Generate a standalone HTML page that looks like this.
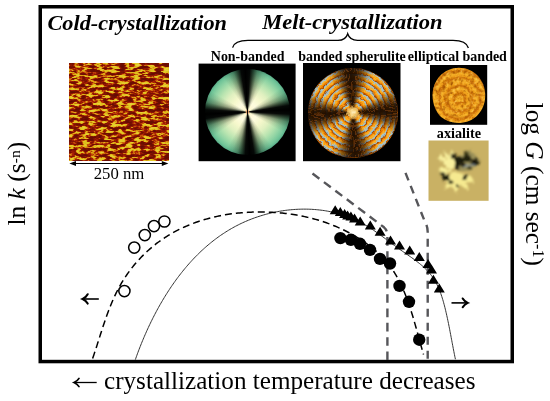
<!DOCTYPE html>
<html><head><meta charset="utf-8">
<style>
html,body{margin:0;padding:0;background:#fff;}
body{width:550px;height:401px;position:relative;overflow:hidden;font-family:"Liberation Serif",serif;}
.ph{position:absolute;}
svg{position:absolute;left:0;top:0;}
</style></head><body>
<svg width="550" height="401" viewBox="0 0 550 401">
<defs>
<filter id="afm" x="0" y="0" width="100%" height="100%" color-interpolation-filters="sRGB">
<feTurbulence type="fractalNoise" baseFrequency="0.135 0.33" numOctaves="3" seed="11" result="n"/>
<feColorMatrix in="n" type="matrix" values="1 0 0 0 0  1 0 0 0 0  1 0 0 0 0  0 0 0 0 1" result="g"/>
<feComponentTransfer in="g">
<feFuncR type="table" tableValues=".38 .38 .38 .39 .40 .41 .42 .44 .48 .55 .66 .80 .86 .88 .89 .90 .91 .91 .91 .91 .91"/>
<feFuncG type="table" tableValues=".04 .04 .04 .04 .04 .05 .05 .06 .07 .09 .12 .38 .68 .76 .79 .81 .82 .82 .82 .82 .82"/>
<feFuncB type="table" tableValues=".01 .01 .01 .01 .01 .01 .01 .01 .01 .01 .02 .04 .08 .12 .15 .18 .22 .25 .25 .25 .25"/>
</feComponentTransfer>
<feGaussianBlur stdDeviation="0.45"/>
</filter>
<filter id="wave2" x="-5%" y="-5%" width="110%" height="110%">
<feTurbulence type="fractalNoise" baseFrequency="0.14" numOctaves="1" seed="3" result="t"/>
<feDisplacementMap in="SourceGraphic" in2="t" scale="8" xChannelSelector="R" yChannelSelector="G"/>
<feGaussianBlur stdDeviation="0.6"/>
</filter>
<radialGradient id="erg" gradientUnits="userSpaceOnUse" cx="459.5" cy="98.5" r="7.5" spreadMethod="repeat">
<stop offset="0" stop-color="#ec9a18"/><stop offset="0.35" stop-color="#f4b028"/><stop offset="0.72" stop-color="#c86c06"/><stop offset="1" stop-color="#ec9a18"/>
</radialGradient>
<clipPath id="ec"><path d="M459,67.8 C474,67.8 485.2,80 485.2,95.5 C485.2,111 474,122.9 459,122.9 C452,122.9 446,121 441,117 C436,112 432.5,104 432.5,95.5 C432.5,80 444,67.8 459,67.8 Z"/></clipPath>
<filter id="ewarp" x="0" y="0" width="100%" height="100%">
<feTurbulence type="fractalNoise" baseFrequency="0.12" numOctaves="2" seed="4" result="t"/>
<feDisplacementMap in="SourceGraphic" in2="t" scale="4" xChannelSelector="R" yChannelSelector="G"/>
</filter>
<filter id="egrain" x="0" y="0" width="100%" height="100%" color-interpolation-filters="sRGB">
<feTurbulence type="fractalNoise" baseFrequency="0.28" numOctaves="2" seed="9" result="t"/>
<feColorMatrix in="t" type="matrix" values="0 0 0 0 0.62  0 0 0 0 0.30  0 0 0 0 0  2.6 0 0 0 -1.35" result="dk"/>
<feColorMatrix in="t" type="matrix" values="0 0 0 0 1  0 0 0 0 0.82  0 0 0 0 0.35  -2.6 0 0 0 1.15" result="lt"/>
<feMerge><feMergeNode in="dk"/><feMergeNode in="lt"/></feMerge>
</filter>
<filter id="rough" x="-10%" y="-10%" width="120%" height="120%">
<feTurbulence type="fractalNoise" baseFrequency="0.45" numOctaves="2" seed="2" result="t"/>
<feDisplacementMap in="SourceGraphic" in2="t" scale="4" xChannelSelector="R" yChannelSelector="G" result="d"/>
<feGaussianBlur in="d" stdDeviation="0.95"/>
</filter>
</defs>
<rect x="40.25" y="6.75" width="472" height="354.8" fill="none" stroke="#000" stroke-width="3.5"/>
<!-- AFM -->
<rect x="69.6" y="63.1" width="98.7" height="97.1" filter="url(#afm)" fill="#000"/>
<!-- photos -->
<rect x="198.6" y="63.6" width="97" height="97.6" fill="#000"/>
<rect x="303" y="63" width="97.5" height="98.2" fill="#000"/>
<rect x="430" y="65" width="57.2" height="59.8" fill="#000"/>
<rect x="428.5" y="140.5" width="60.1" height="60.3" fill="#c9b164"/>
<g clip-path="url(#ec)">
<rect x="428" y="63" width="61" height="64" fill="url(#erg)" filter="url(#ewarp)"/>
<rect x="430" y="65" width="57.2" height="59.8" filter="url(#egrain)"/>
</g>
<g filter="url(#rough)">
<path d="M451,171 L438,158 L441,154 L447,160 L443,150 L449,156 L452,150 L455,166 Z" fill="#fbf2a0" opacity="0.95"/>
<path d="M452,170 L440,167 L439,172 L446,174 Z" fill="#f8ee98"/>
<path d="M452,171 L471,176 L474,183 L466,182 L469,190 L460,185 L456,193 L452,186 L444,190 L447,182 Z" fill="#f6ea90"/>
<path d="M455,160 L470,150 L480,160 L472,170 L458,172 Z" fill="#9a9058"/>
<ellipse cx="459" cy="161" rx="5" ry="4.5" fill="#1e1e0c"/>
<ellipse cx="467" cy="158.5" rx="4" ry="3.5" fill="#22220f"/>
<ellipse cx="475" cy="162" rx="4.5" ry="4" fill="#1e1e0c"/>
<ellipse cx="463" cy="165" rx="3" ry="2.5" fill="#2a2814"/>
<ellipse cx="454" cy="156" rx="3.2" ry="2.8" fill="#2e2c14"/>
<ellipse cx="466" cy="153.5" rx="2.5" ry="2" fill="#3a3818"/>
<ellipse cx="446" cy="177.5" rx="3.8" ry="3.4" fill="#22220f"/>
<ellipse cx="442.5" cy="173.5" rx="2" ry="2" fill="#2e2c14"/>
<ellipse cx="465" cy="177" rx="2.8" ry="2.8" fill="#1a1a0a"/>
<ellipse cx="457" cy="167" rx="2.6" ry="2.6" fill="#2a2814"/>
<ellipse cx="451" cy="182" rx="2" ry="2" fill="#2e2c14"/>
<ellipse cx="457.5" cy="186" rx="1.6" ry="1.8" fill="#2e2c14"/>
<ellipse cx="470" cy="168" rx="2" ry="1.6" fill="#2e2c14"/>
<path d="M462,167.5 Q468,164.5 475,165" stroke="#8898a0" stroke-width="1.3" fill="none"/>
</g>
<!-- double arrow -->
<line x1="73" y1="163.5" x2="165" y2="163.5" stroke="#000" stroke-width="1.2"/>
<path d="M69.4,163.5 L76,161 L76,166 Z M168.4,163.5 L161.8,161 L161.8,166 Z" fill="#000"/>
<!-- brace -->
<path d="M232.6,47.6 C234,42.5 240,40.4 248,40.4 L338,40.4 C343,40.4 346.5,38 347.7,33.8 C349,38 352.5,40.4 357.5,40.4 L453,40.4 C461,40.4 467,43 468.4,48" fill="none" stroke="#000" stroke-width="1.3"/>
<!-- curves -->
<path d="M135.31,359.68 L135.83,358.22 L136.35,356.75 L136.88,355.29 L137.42,353.82 L137.96,352.36 L138.51,350.89 L139.07,349.43 L139.64,347.96 L140.22,346.49 L140.80,345.03 L141.39,343.56 L141.98,342.09 L142.59,340.63 L143.20,339.16 L143.82,337.70 L144.44,336.23 L145.08,334.77 L145.72,333.31 L146.36,331.85 L147.02,330.39 L147.68,328.93 L148.36,327.48 L149.03,326.02 L149.72,324.57 L150.42,323.12 L151.12,321.68 L151.83,320.23 L152.54,318.79 L153.27,317.35 L154.00,315.92 L154.74,314.49 L155.49,313.06 L156.25,311.63 L157.01,310.21 L157.78,308.79 L158.56,307.38 L159.35,305.97 L160.15,304.56 L160.95,303.16 L161.76,301.77 L162.58,300.37 L163.41,298.99 L164.25,297.60 L165.09,296.23 L165.94,294.85 L166.80,293.49 L167.67,292.13 L168.55,290.77 L169.43,289.42 L170.32,288.08 L171.23,286.74 L172.13,285.41 L173.05,284.08 L173.98,282.77 L174.91,281.46 L175.85,280.15 L176.81,278.85 L177.76,277.56 L178.73,276.28 L179.71,275.01 L180.69,273.74 L181.69,272.48 L182.69,271.23 L183.70,269.98 L184.72,268.75 L185.74,267.52 L186.78,266.30 L187.82,265.09 L188.88,263.89 L189.94,262.70 L191.01,261.52 L192.09,260.35 L193.17,259.18 L194.27,258.03 L195.38,256.88 L196.49,255.75 L197.61,254.62 L198.74,253.51 L199.88,252.41 L201.03,251.31 L202.19,250.23 L203.36,249.16 L204.53,248.10 L205.72,247.05 L206.91,246.01 L208.12,244.98 L209.33,243.97 L210.55,242.96 L211.78,241.97 L213.02,240.99 L214.27,240.03 L215.52,239.07 L216.79,238.13 L218.06,237.20 L219.35,236.28 L220.64,235.37 L221.95,234.48 L223.26,233.61 L224.58,232.74 L225.91,231.89 L227.25,231.05 L228.60,230.23 L229.96,229.42 L231.33,228.62 L232.71,227.84 L234.09,227.07 L235.49,226.32 L236.90,225.58 L238.31,224.86 L239.74,224.15 L241.17,223.46 L242.62,222.78 L244.07,222.12 L245.53,221.47 L247.00,220.84 L248.48,220.23 L249.97,219.63 L251.46,219.04 L252.96,218.48 L254.47,217.92 L255.99,217.39 L257.51,216.87 L259.04,216.36 L260.57,215.87 L262.12,215.40 L263.66,214.95 L265.22,214.51 L266.77,214.09 L268.34,213.68 L269.90,213.29 L271.48,212.92 L273.05,212.56 L274.63,212.23 L276.22,211.91 L277.80,211.60 L279.39,211.31 L280.99,211.04 L282.58,210.79 L284.18,210.56 L285.78,210.34 L287.38,210.14 L288.99,209.96 L290.59,209.79 L292.20,209.65 L293.81,209.52 L295.41,209.41 L297.02,209.32 L298.63,209.24 L300.24,209.19 L301.85,209.15 L303.45,209.13 L305.06,209.13 L306.66,209.15 L308.27,209.18 L309.87,209.24 L311.47,209.31 L313.07,209.41 L314.66,209.52 L316.25,209.65 L317.84,209.80 L319.43,209.97 L321.01,210.16 L322.59,210.37 L324.17,210.59 L325.74,210.84 L327.30,211.11 L328.86,211.40 L330.42,211.70 L331.97,212.03 L333.52,212.37 L335.06,212.74 L336.59,213.13 L338.12,213.53 L339.64,213.96 L341.16,214.41 L342.66,214.87 L344.16,215.36 L345.65,215.87 L347.14,216.40 L348.62,216.95 L350.08,217.52 L351.54,218.11 L352.99,218.73 L354.44,219.36 L355.87,220.02 L357.29,220.69 L358.70,221.39 L360.11,222.11 L361.50,222.85 L362.88,223.61 L364.25,224.39 L365.62,225.19 L366.98,226.01 L368.33,226.84 L369.67,227.69 L371.00,228.55 L372.33,229.43 L373.65,230.32 L374.97,231.22 L376.29,232.13 L377.60,233.05 L378.90,233.98 L380.21,234.92 L381.51,235.87 L382.80,236.82 L384.10,237.78 L385.40,238.74 L386.69,239.71 L387.99,240.67 L389.29,241.64 L390.58,242.61 L391.88,243.58 L393.18,244.55 L394.49,245.51 L395.79,246.47 L397.11,247.43 L398.42,248.38 L399.74,249.33 L401.06,250.26 L402.39,251.20 L403.73,252.12 L405.06,253.05 L406.39,253.97 L407.72,254.89 L409.04,255.81 L410.37,256.74 L411.68,257.66 L412.98,258.60 L414.28,259.54 L415.56,260.48 L416.83,261.44 L418.08,262.41 L419.32,263.39 L420.54,264.38 L421.74,265.39 L422.91,266.42 L424.07,267.46 L425.20,268.52 L426.30,269.61 L427.38,270.72 L428.42,271.85 L429.44,273.00 L430.42,274.19 L431.37,275.40 L432.28,276.64 L433.16,277.91 L434.00,279.21 L434.80,280.53 L435.58,281.88 L436.32,283.26 L437.03,284.66 L437.72,286.08 L438.37,287.52 L439.00,288.98 L439.61,290.46 L440.19,291.96 L440.74,293.47 L441.28,294.99 L441.79,296.53 L442.29,298.08 L442.76,299.64 L443.22,301.20 L443.67,302.78 L444.09,304.36 L444.51,305.94 L444.91,307.53 L445.31,309.12 L445.69,310.72 L446.06,312.31 L446.43,313.90 L446.78,315.49 L447.13,317.08 L447.48,318.67 L447.81,320.25 L448.14,321.84 L448.47,323.43 L448.79,325.01 L449.10,326.59 L449.41,328.17 L449.72,329.75 L450.02,331.33 L450.32,332.90 L450.62,334.47 L450.92,336.04 L451.21,337.61 L451.51,339.18 L451.80,340.74 L452.09,342.30 L452.38,343.85 L452.68,345.41 L452.97,346.96 L453.27,348.51 L453.56,350.05 L453.86,351.59 L454.17,353.13 L454.47,354.66 L454.78,356.19 L455.10,357.72 L455.41,359.24" fill="none" stroke="#333" stroke-width="1"/>
<path d="M92.60,358.48 L93.14,356.94 L93.66,355.41 L94.18,353.87 L94.70,352.33 L95.21,350.79 L95.71,349.24 L96.22,347.70 L96.72,346.15 L97.22,344.61 L97.71,343.06 L98.21,341.51 L98.70,339.96 L99.20,338.41 L99.69,336.86 L100.19,335.31 L100.68,333.76 L101.18,332.21 L101.68,330.67 L102.18,329.12 L102.68,327.58 L103.19,326.03 L103.70,324.49 L104.22,322.95 L104.74,321.41 L105.27,319.88 L105.80,318.35 L106.34,316.82 L106.88,315.29 L107.44,313.77 L108.00,312.25 L108.57,310.74 L109.14,309.22 L109.73,307.72 L110.32,306.22 L110.93,304.72 L111.55,303.22 L112.18,301.74 L112.82,300.25 L113.47,298.78 L114.13,297.31 L114.81,295.84 L115.50,294.38 L116.20,292.93 L116.92,291.48 L117.66,290.05 L118.41,288.61 L119.17,287.19 L119.95,285.77 L120.75,284.36 L121.57,282.96 L122.40,281.57 L123.26,280.18 L124.13,278.81 L125.01,277.44 L125.92,276.09 L126.84,274.74 L127.78,273.40 L128.73,272.07 L129.70,270.75 L130.69,269.45 L131.69,268.15 L132.71,266.87 L133.74,265.59 L134.79,264.33 L135.85,263.08 L136.93,261.84 L138.02,260.62 L139.13,259.41 L140.25,258.21 L141.38,257.02 L142.53,255.85 L143.69,254.69 L144.86,253.55 L146.05,252.42 L147.25,251.31 L148.46,250.21 L149.68,249.12 L150.92,248.06 L152.16,247.00 L153.42,245.97 L154.68,244.95 L155.96,243.94 L157.25,242.96 L158.55,241.99 L159.86,241.03 L161.18,240.10 L162.51,239.18 L163.85,238.28 L165.19,237.40 L166.55,236.53 L167.92,235.68 L169.29,234.84 L170.68,234.02 L172.07,233.22 L173.47,232.43 L174.88,231.66 L176.30,230.91 L177.73,230.17 L179.16,229.45 L180.60,228.75 L182.05,228.06 L183.51,227.38 L184.97,226.72 L186.45,226.08 L187.92,225.45 L189.41,224.84 L190.90,224.25 L192.40,223.66 L193.91,223.10 L195.42,222.55 L196.94,222.01 L198.46,221.49 L199.99,220.98 L201.53,220.49 L203.07,220.02 L204.61,219.55 L206.16,219.11 L207.72,218.67 L209.28,218.25 L210.85,217.85 L212.42,217.46 L213.99,217.08 L215.57,216.72 L217.16,216.37 L218.74,216.04 L220.33,215.72 L221.93,215.41 L223.53,215.12 L225.13,214.84 L226.73,214.58 L228.34,214.32 L229.95,214.08 L231.57,213.86 L233.18,213.65 L234.80,213.45 L236.42,213.26 L238.05,213.09 L239.67,212.93 L241.30,212.78 L242.93,212.65 L244.56,212.52 L246.19,212.41 L247.82,212.32 L249.45,212.23 L251.09,212.16 L252.72,212.10 L254.36,212.05 L255.99,212.02 L257.63,211.99 L259.27,211.98 L260.90,211.98 L262.54,211.99 L264.18,212.02 L265.81,212.05 L267.45,212.10 L269.08,212.16 L270.72,212.23 L272.35,212.32 L273.98,212.41 L275.61,212.52 L277.24,212.64 L278.87,212.78 L280.50,212.92 L282.12,213.08 L283.75,213.25 L285.37,213.43 L286.99,213.63 L288.60,213.84 L290.22,214.06 L291.83,214.30 L293.44,214.54 L295.04,214.80 L296.65,215.08 L298.25,215.36 L299.85,215.66 L301.44,215.98 L303.03,216.30 L304.62,216.64 L306.21,217.00 L307.79,217.36 L309.36,217.74 L310.94,218.13 L312.51,218.54 L314.07,218.96 L315.63,219.39 L317.19,219.84 L318.74,220.30 L320.28,220.78 L321.83,221.27 L323.36,221.77 L324.89,222.28 L326.42,222.81 L327.94,223.36 L329.46,223.92 L330.97,224.49 L332.47,225.08 L333.97,225.68 L335.46,226.30 L336.95,226.93 L338.43,227.57 L339.90,228.23 L341.37,228.90 L342.83,229.59 L344.28,230.29 L345.73,231.01 L347.17,231.74 L348.60,232.49 L350.02,233.25 L351.44,234.03 L352.85,234.82 L354.25,235.63 L355.65,236.45 L357.04,237.29 L358.41,238.14 L359.79,239.01 L361.15,239.89 L362.50,240.79 L363.85,241.70 L365.18,242.63 L366.51,243.57 L367.82,244.53 L369.13,245.51 L370.42,246.50 L371.70,247.51 L372.96,248.53 L374.21,249.57 L375.45,250.63 L376.67,251.70 L377.87,252.79 L379.05,253.89 L380.22,255.02 L381.37,256.15 L382.50,257.31 L383.61,258.48 L384.70,259.67 L385.76,260.87 L386.81,262.10 L387.83,263.34 L388.83,264.59 L389.80,265.87 L390.75,267.16 L391.68,268.46 L392.58,269.79 L393.46,271.12 L394.33,272.47 L395.17,273.84 L395.99,275.21 L396.79,276.60 L397.57,278.01 L398.33,279.42 L399.08,280.84 L399.81,282.28 L400.52,283.72 L401.22,285.17 L401.90,286.63 L402.56,288.10 L403.22,289.57 L403.85,291.05 L404.48,292.54 L405.09,294.04 L405.69,295.54 L406.28,297.05 L406.85,298.56 L407.41,300.08 L407.97,301.61 L408.51,303.14 L409.04,304.67 L409.57,306.21 L410.08,307.75 L410.59,309.30 L411.08,310.85 L411.57,312.40 L412.06,313.96 L412.53,315.52 L413.00,317.08 L413.46,318.64 L413.92,320.21 L414.38,321.77 L414.82,323.34 L415.27,324.91 L415.71,326.47 L416.15,328.04 L416.58,329.61 L417.02,331.18 L417.45,332.75 L417.88,334.31 L418.30,335.88 L418.73,337.44 L419.16,339.00 L419.59,340.56 L420.02,342.12 L420.45,343.67 L420.88,345.23 L421.31,346.77 L421.75,348.32 L422.19,349.86 L422.63,351.40 L423.08,352.93 L423.53,354.46" fill="none" stroke="#000" stroke-width="1.5" stroke-dasharray="7 4"/>
<path d="M312.5,173.5 L384,227.3 Q387.4,230.2 387.4,236 L387.4,360" fill="none" stroke="#56565a" stroke-width="2.4" stroke-dasharray="8.6 5.7"/>
<path d="M405.5,172.9 L424.8,221.5 Q427.7,226 427.7,232 L427.7,360" fill="none" stroke="#56565a" stroke-width="2.4" stroke-dasharray="8 6"/>
<circle cx="134.25" cy="247.6" r="5.6" fill="none" stroke="#000" stroke-width="1.5"/><circle cx="144.8" cy="235.1" r="5.6" fill="none" stroke="#000" stroke-width="1.5"/><circle cx="154" cy="226.1" r="5.6" fill="none" stroke="#000" stroke-width="1.5"/><circle cx="164.4" cy="221.5" r="5.6" fill="none" stroke="#000" stroke-width="1.5"/><circle cx="124.4" cy="291.1" r="5.6" fill="none" stroke="#000" stroke-width="1.5"/><circle cx="340.4" cy="238.1" r="6.2" fill="#000"/><circle cx="350.9" cy="239.8" r="6.2" fill="#000"/><circle cx="360" cy="243.8" r="6.2" fill="#000"/><circle cx="370" cy="249.9" r="6.2" fill="#000"/><circle cx="380" cy="258.9" r="6.2" fill="#000"/><circle cx="390" cy="263.5" r="6.2" fill="#000"/><circle cx="399.5" cy="285.9" r="6.2" fill="#000"/><circle cx="409" cy="301.8" r="6.2" fill="#000"/><circle cx="419.2" cy="339.7" r="6.2" fill="#000"/><path d="M335.2,205.3 L340.7,214.3 L329.7,214.3 Z M340.3,206.9 L345.8,215.9 L334.8,215.9 Z M344.6,209.0 L350.1,218.0 L339.1,218.0 Z M347.6,210.5 L353.1,219.5 L342.1,219.5 Z M350.9,211.6 L356.4,220.6 L345.4,220.6 Z M354.5,213.5 L360.0,222.5 L349.0,222.5 Z M360.2,216.6 L365.7,225.6 L354.7,225.6 Z M370.3,220.4 L375.8,229.4 L364.8,229.4 Z M380.1,226.7 L385.6,235.7 L374.6,235.7 Z M390.5,235.5 L396.0,244.5 L385.0,244.5 Z M399.5,240.4 L405.0,249.4 L394.0,249.4 Z M409.7,245.6 L415.2,254.6 L404.2,254.6 Z M419.3,252.0 L424.8,261.0 L413.8,261.0 Z M428.0,259.0 L433.5,268.0 L422.5,268.0 Z M431.5,264.5 L437.0,273.5 L426.0,273.5 Z M433.4,274.7 L438.9,283.7 L427.9,283.7 Z M439.3,283.5 L444.8,292.5 L433.8,292.5 Z" fill="#000"/>
<!-- small arrows -->
<path d="M98.8,299 L84,299" fill="none" stroke="#000" stroke-width="1.6"/><path d="M87.7,294.3 Q86,297.5 82.6,299 Q86,300.5 87.7,303.6" fill="none" stroke="#000" stroke-width="2.1" stroke-linecap="round"/>
<path d="M451.5,302.9 L466.5,302.9" fill="none" stroke="#000" stroke-width="1.6"/><path d="M462.7,298.5 Q464.4,301.4 467.7,302.9 Q464.4,304.4 462.7,307.2" fill="none" stroke="#000" stroke-width="2.1" stroke-linecap="round"/>
<!-- text -->
<g font-family="Liberation Serif, serif">
<text x="47.5" y="29.7" font-size="21.5" font-weight="bold" font-style="italic" textLength="179.5" lengthAdjust="spacingAndGlyphs">Cold-crystallization</text>
<text x="262.3" y="29" font-size="21.5" font-weight="bold" font-style="italic" textLength="180.3" lengthAdjust="spacingAndGlyphs">Melt-crystallization</text>
<text x="210.8" y="60.5" font-size="13.7" font-weight="bold" textLength="73.7" lengthAdjust="spacingAndGlyphs">Non-banded</text>
<text x="298.3" y="60.5" font-size="13.7" font-weight="bold" textLength="107.5" lengthAdjust="spacingAndGlyphs">banded spherulite</text>
<text x="407.8" y="60.5" font-size="13.7" font-weight="bold" textLength="99.1" lengthAdjust="spacingAndGlyphs">elliptical banded</text>
<text x="436.8" y="138.4" font-size="13.7" font-weight="bold" textLength="44.2" lengthAdjust="spacingAndGlyphs">axialite</text>
<text x="93.7" y="179.3" font-size="16.7">250 nm</text>
<text x="104" y="388.6" font-size="25" textLength="371.5" lengthAdjust="spacingAndGlyphs">crystallization temperature decreases</text>
<path d="M96.7,382.5 L75,382.5" fill="none" stroke="#000" stroke-width="1.3"/><path d="M79,378.4 Q77.5,381 74,382.5 Q77.5,384 79,386.6" fill="none" stroke="#000" stroke-width="1.7" stroke-linecap="round"/>
<text transform="translate(25.2,225.6) rotate(-90)" font-size="25.5">ln <tspan font-style="italic">k</tspan> (s<tspan font-size="15.5" dy="-5">-n</tspan><tspan dy="5">)</tspan></text>
<text transform="translate(526.2,102.6) rotate(90)" font-size="25.35">log <tspan font-style="italic">G</tspan> (cm sec<tspan font-size="16" dy="-7.3">-1</tspan><tspan dy="7.3">)</tspan></text>
</g>
</svg>
<div class="ph" style="left:205.2px;top:69.4px;width:84.6px;height:85.6px;border-radius:50%;
background:conic-gradient(from -3deg at 50% 50%, rgba(0,0,0,1) 0deg, rgba(0,0,0,0.96) 6deg, rgba(4,12,4,0.72) 11deg, rgba(10,24,10,0.38) 17deg, rgba(10,24,10,0.12) 25deg, rgba(10,24,10,0) 33deg, rgba(10,24,10,0) 57deg, rgba(10,24,10,0.12) 65deg, rgba(10,24,10,0.38) 73deg, rgba(4,12,4,0.72) 79deg, rgba(0,0,0,0.96) 84deg, rgba(0,0,0,1) 90deg, rgba(0,0,0,0.96) 96deg, rgba(4,12,4,0.72) 101deg, rgba(10,24,10,0.38) 107deg, rgba(10,24,10,0.12) 115deg, rgba(10,24,10,0) 123deg, rgba(10,24,10,0) 147deg, rgba(10,24,10,0.12) 155deg, rgba(10,24,10,0.38) 163deg, rgba(4,12,4,0.72) 169deg, rgba(0,0,0,0.96) 174deg, rgba(0,0,0,1) 180deg, rgba(0,0,0,0.96) 186deg, rgba(4,12,4,0.72) 191deg, rgba(10,24,10,0.38) 197deg, rgba(10,24,10,0.12) 205deg, rgba(10,24,10,0) 213deg, rgba(10,24,10,0) 237deg, rgba(10,24,10,0.12) 245deg, rgba(10,24,10,0.38) 253deg, rgba(4,12,4,0.72) 259deg, rgba(0,0,0,0.96) 264deg, rgba(0,0,0,1) 270deg, rgba(0,0,0,0.96) 276deg, rgba(4,12,4,0.72) 281deg, rgba(10,24,10,0.38) 287deg, rgba(10,24,10,0.12) 295deg, rgba(10,24,10,0) 303deg, rgba(10,24,10,0) 327deg, rgba(10,24,10,0.12) 335deg, rgba(10,24,10,0.38) 343deg, rgba(4,12,4,0.72) 349deg, rgba(0,0,0,0.96) 354deg, rgba(0,0,0,1) 360deg),
radial-gradient(circle at 50% 50%, #e07030 0px, #fff8d0 3px, #fffce0 9px, #f6f8cc 16px, #e0f0c0 23px, #b8e4b0 30px, #90d4a4 36px, #70c498 40.5px, #58ac88 43px);"></div>
<div class="ph" style="left:308.3px;top:68.2px;width:89.6px;height:89.6px;border-radius:50%;overflow:hidden;background:#3a1800;">
<div style="position:absolute;left:0;top:0;width:179.2px;height:179.2px;transform:scale(0.5);transform-origin:0 0;">
<div style="position:absolute;left:-6px;top:-6px;width:191.2px;height:191.2px;filter:url(#wave2);background:repeating-radial-gradient(circle at 50% 50%, #a04800 0px, #e87800 1.6px, #f89810 3.4px, #fbb828 5.2px, #f0a838 6.4px, #b8c0b0 7.4px, #a8c4c8 8.6px, #90a8b0 9.8px, #a04800 11.2px);"></div>
<div style="position:absolute;left:0;top:0;width:100%;height:100%;background:conic-gradient(from -3deg at 50% 50%, rgba(28,12,0,.97) 0deg, rgba(28,12,0,.9) 8deg, rgba(28,12,0,.55) 17deg, rgba(28,12,0,.15) 26deg, rgba(28,12,0,0) 32deg, rgba(28,12,0,0) 58deg, rgba(28,12,0,.15) 64deg, rgba(28,12,0,.55) 73deg, rgba(28,12,0,.9) 82deg, rgba(28,12,0,.97) 90deg, rgba(28,12,0,.9) 98deg, rgba(28,12,0,.55) 107deg, rgba(28,12,0,.15) 116deg, rgba(28,12,0,0) 122deg, rgba(28,12,0,0) 148deg, rgba(28,12,0,.15) 154deg, rgba(28,12,0,.55) 163deg, rgba(28,12,0,.9) 172deg, rgba(28,12,0,.97) 180deg, rgba(28,12,0,.9) 188deg, rgba(28,12,0,.55) 197deg, rgba(28,12,0,.15) 206deg, rgba(28,12,0,0) 212deg, rgba(28,12,0,0) 238deg, rgba(28,12,0,.15) 244deg, rgba(28,12,0,.55) 253deg, rgba(28,12,0,.9) 262deg, rgba(28,12,0,.97) 270deg, rgba(28,12,0,.9) 278deg, rgba(28,12,0,.55) 287deg, rgba(28,12,0,.15) 296deg, rgba(28,12,0,0) 302deg, rgba(28,12,0,0) 328deg, rgba(28,12,0,.15) 334deg, rgba(28,12,0,.55) 343deg, rgba(28,12,0,.9) 352deg, rgba(28,12,0,.97) 360deg);"></div>
<div style="position:absolute;left:0;top:0;width:100%;height:100%;filter:url(#wave2);
background:repeating-conic-gradient(from 0deg at 50% 50%, rgba(190,95,20,.35) 0deg 0.8deg, rgba(0,0,0,0) 0.8deg 2.0deg, rgba(150,70,10,.3) 2.0deg 2.6deg, rgba(0,0,0,0) 2.6deg 4.3deg);
-webkit-mask-image:conic-gradient(from -3deg at 50% 50%, #000 0deg, #000 10deg, rgba(0,0,0,0) 26deg, rgba(0,0,0,0) 64deg, #000 80deg, #000 90deg, #000 100deg, rgba(0,0,0,0) 116deg, rgba(0,0,0,0) 154deg, #000 170deg, #000 180deg, #000 190deg, rgba(0,0,0,0) 206deg, rgba(0,0,0,0) 244deg, #000 260deg, #000 270deg, #000 280deg, rgba(0,0,0,0) 296deg, rgba(0,0,0,0) 334deg, #000 350deg, #000 360deg);mask-image:conic-gradient(from -3deg at 50% 50%, #000 0deg, #000 10deg, rgba(0,0,0,0) 26deg, rgba(0,0,0,0) 64deg, #000 80deg, #000 90deg, #000 100deg, rgba(0,0,0,0) 116deg, rgba(0,0,0,0) 154deg, #000 170deg, #000 180deg, #000 190deg, rgba(0,0,0,0) 206deg, rgba(0,0,0,0) 244deg, #000 260deg, #000 270deg, #000 280deg, rgba(0,0,0,0) 296deg, rgba(0,0,0,0) 334deg, #000 350deg, #000 360deg);"></div>
<div style="position:absolute;left:77px;top:75px;width:26px;height:28px;border-radius:50%;filter:url(#wave2);background:radial-gradient(circle, #fff0c0 0%, #f0c060 40%, rgba(220,140,40,0) 100%);"></div>
</div>
</div>

</body></html>
